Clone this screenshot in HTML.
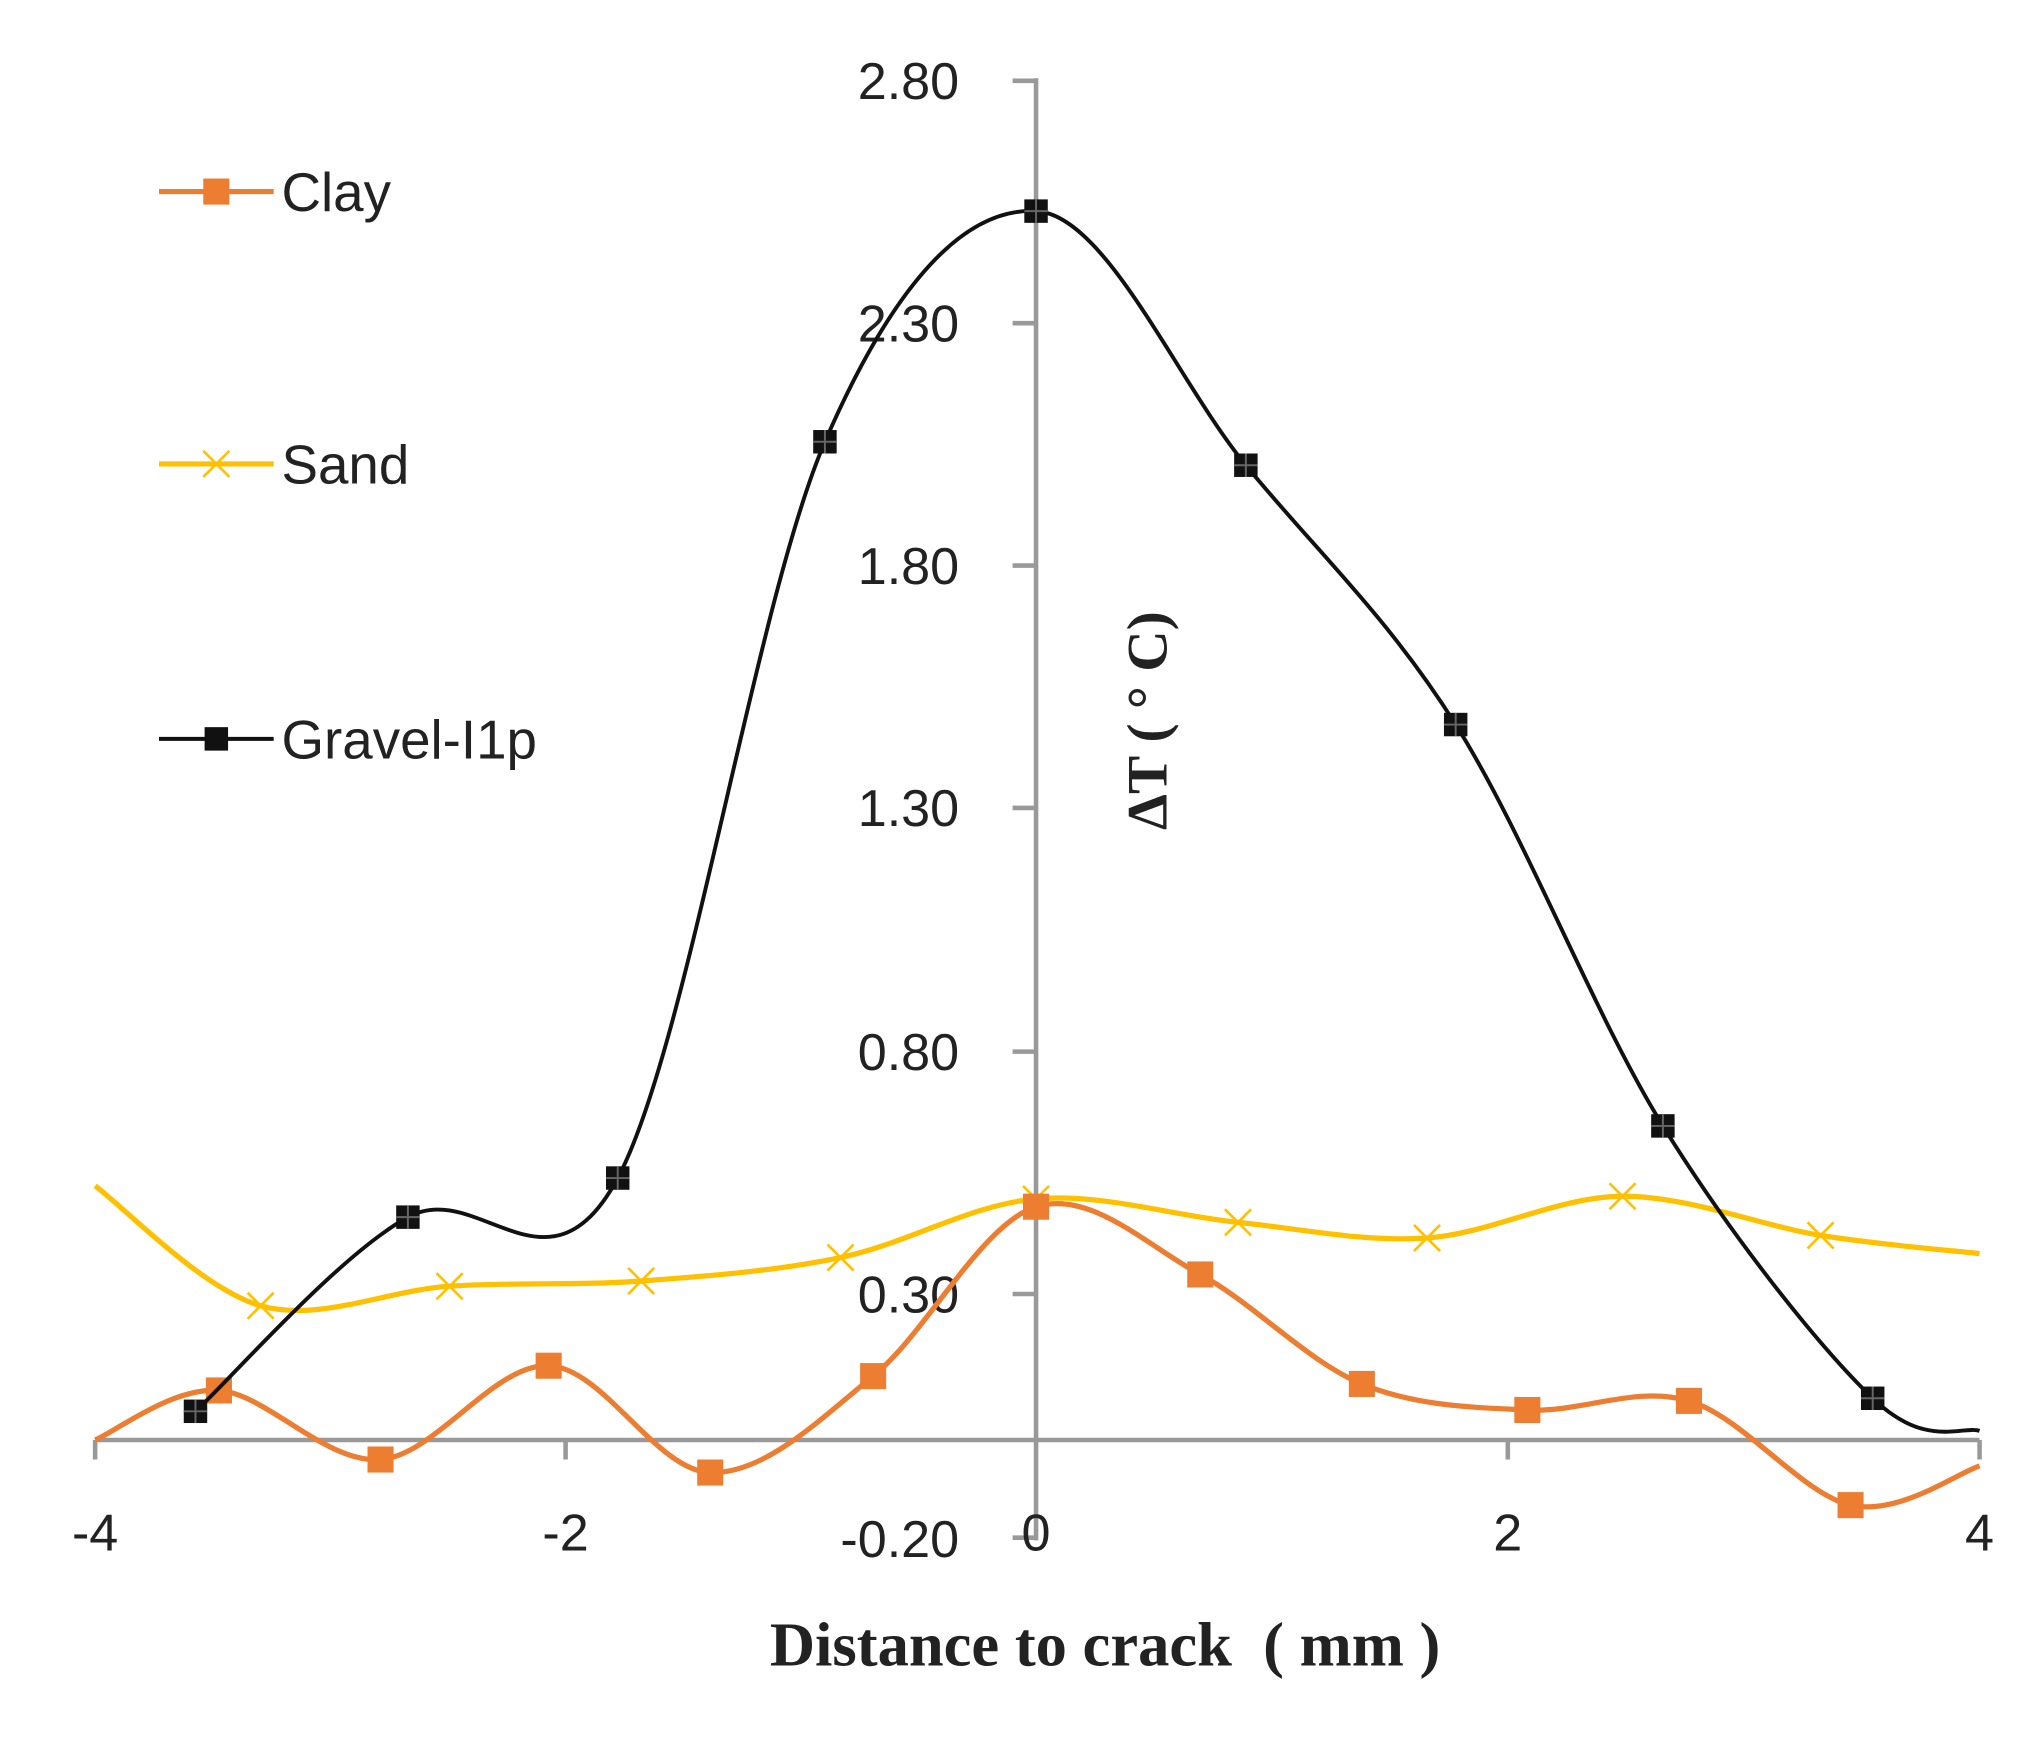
<!DOCTYPE html>
<html><head><meta charset="utf-8"><style>html,body{margin:0;padding:0;background:#fff}svg{display:block}</style></head>
<body>
<svg id="s" width="2033" height="1741" viewBox="0 0 1560 1336" preserveAspectRatio="none" xmlns="http://www.w3.org/2000/svg">
<rect width="1560" height="1336" fill="#fff"/>
<g stroke="#999" stroke-width="3.5" fill="none">
<line x1="795" y1="60" x2="795" y2="1182"/>
<line x1="73" y1="1105" x2="1519" y2="1105"/>
<line x1="777" y1="62" x2="795" y2="62"/>
<line x1="777" y1="248" x2="795" y2="248"/>
<line x1="777" y1="434" x2="795" y2="434"/>
<line x1="777" y1="620" x2="795" y2="620"/>
<line x1="777" y1="807" x2="795" y2="807"/>
<line x1="777" y1="993" x2="795" y2="993"/>
<line x1="777" y1="1180" x2="795" y2="1180"/>
<line x1="73" y1="1105" x2="73" y2="1120"/>
<line x1="434" y1="1105" x2="434" y2="1120"/>
<line x1="1157" y1="1105" x2="1157" y2="1120"/>
<line x1="1519" y1="1105" x2="1519" y2="1120"/>
</g>
<g font-family="Liberation Sans, sans-serif" font-size="40" fill="#222" text-anchor="end">
<text x="736" y="76">2.80</text>
<text x="736" y="262">2.30</text>
<text x="736" y="448">1.80</text>
<text x="736" y="634">1.30</text>
<text x="736" y="821">0.80</text>
<text x="736" y="1007">0.30</text>
<text x="736" y="1195">-0.20</text>
</g>
<g font-family="Liberation Sans, sans-serif" font-size="40" fill="#222" text-anchor="middle">
<text x="73" y="1190">-4</text>
<text x="434" y="1190">-2</text>
<text x="795" y="1190">0</text>
<text x="1157" y="1190">2</text>
<text x="1519" y="1190">4</text>
</g>
<text x="848" y="1278" font-family="Liberation Serif, serif" font-weight="bold" font-size="48" text-anchor="middle" fill="#222" xml:space="preserve">Distance to crack  ( mm )</text>
<text transform="translate(895,553) rotate(-90)" font-family="Liberation Serif, serif" font-weight="bold" font-size="44" text-anchor="middle" fill="#222" xml:space="preserve">ΔT ( ° C)</text>
<g id="series"></g>
<g font-family="Liberation Sans, sans-serif" font-size="42" fill="#222">
<line x1="122" y1="147" x2="210" y2="147" stroke="#ED7D31" stroke-width="4"/>
<rect x="156" y="137" width="20" height="20" fill="#ED7D31"/>
<text x="216" y="162">Clay</text>
<line x1="122" y1="356" x2="210" y2="356" stroke="#FFC000" stroke-width="4"/>
<path d="M156 346 L176 366 M176 346 L156 366" stroke="#FFC000" stroke-width="2"/>
<text x="216" y="371">Sand</text>
<line x1="122" y1="567" x2="210" y2="567" stroke="#111" stroke-width="3"/>
<rect x="157" y="558" width="18" height="18" fill="#111"/>
<text x="216" y="582">Gravel-I1p</text>
</g>
</svg>
<script>
function cr(p){var d="M"+p[0][0]+" "+p[0][1];for(var i=0;i<p.length-1;i++){var a=p[Math.max(0,i-1)],b=p[i],c=p[i+1],e=p[Math.min(p.length-1,i+2)];
d+=" C"+(b[0]+(c[0]-a[0])/6)+" "+(b[1]+(c[1]-a[1])/6)+" "+(c[0]-(e[0]-b[0])/6)+" "+(c[1]-(e[1]-b[1])/6)+" "+c[0]+" "+c[1];}return d;}
var g=document.getElementById("series"),h="";
var sand=[[73,910],[200,1002],[345,987],[492,983],[645,965],[795,920],[950,938],[1095,950],[1245,918],[1397,948],[1519,962]];
var clay=[[73,1105],[168,1067],[292,1120],[421,1048],[545,1130],[670,1056],[795,926],[921,978],[1045,1062],[1172,1082],[1296,1075],[1420,1155],[1519,1125]];
var grav=[[150,1083],[313,934],[474,904],[633,339],[795,162],[956,357],[1117,556],[1276,864],[1437,1073],[1519,1098]];
h+='<path d="'+cr(sand)+'" stroke="#FFC000" stroke-width="4" fill="none"/>';
sand.slice(1,-1).forEach(function(p){h+='<path d="M'+(p[0]-10)+' '+(p[1]-10)+' l20 20 m0 -20 l-20 20" stroke="#FFC000" stroke-width="2"/>';});
h+='<path d="'+cr(clay)+'" stroke="#ED7D31" stroke-width="4" fill="none"/>';
clay.slice(1,-1).forEach(function(p){h+='<rect x="'+(p[0]-10)+'" y="'+(p[1]-10)+'" width="20" height="20" fill="#ED7D31"/>';});
h+='<path d="'+cr(grav)+'" stroke="#111" stroke-width="3" fill="none"/>';
grav.slice(0,-1).forEach(function(p){h+='<rect x="'+(p[0]-9)+'" y="'+(p[1]-9)+'" width="18" height="18" fill="#111"/><path d="M'+(p[0]-9)+' '+p[1]+' h18 M'+p[0]+' '+(p[1]-9)+' v18" stroke="#666" stroke-width="1.5"/>';});
g.innerHTML=h;
</script>
</body></html>
